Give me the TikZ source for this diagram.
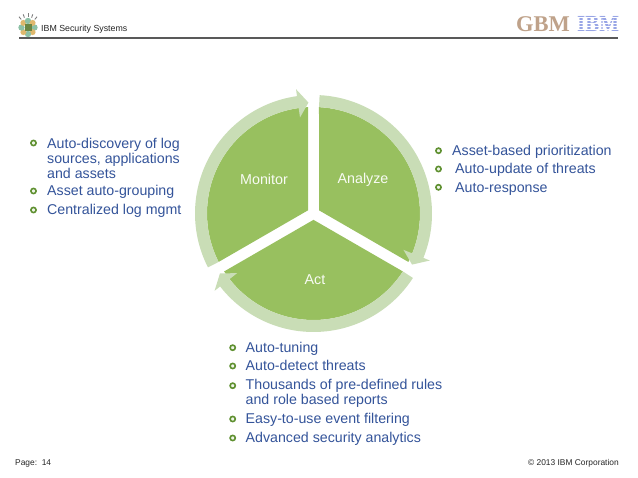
\documentclass[tikz,border=0pt]{standalone}
\usepackage{fontspec}
\setmainfont{Liberation Sans}
\newfontfamily\serifface{Liberation Serif}
\usetikzlibrary{positioning}

\definecolor{sectorgreen}{HTML}{98C05F}
\definecolor{ringgreen}{HTML}{C9DDB6}
\definecolor{bulletgreen}{HTML}{5F9030}
\definecolor{listblue}{HTML}{34549A}
\definecolor{gbmbrown}{HTML}{BFA28A}
\definecolor{ibmblue}{HTML}{98A5E6}

\tikzset{
  listtext/.style={anchor=north west, inner sep=0pt, align=left, text=listblue, font=\fontsize{14.2}{15.1}\selectfont},
  listdot/.style={circle, draw=bulletgreen, fill=ringgreen!30, line width=1.6pt, inner sep=0pt, minimum size=5.2pt},
  wheeltext/.style={inner sep=0pt, text=white!93!sectorgreen, font=\fontsize{14.3}{16}\selectfont},
  smalltext/.style={inner sep=0pt, text=black!85, font=\fontsize{8.4}{10}\selectfont}
}

\begin{document}
\begin{tikzpicture}[x=1pt, y=-1pt]
      \useasboundingbox (0, 0) rectangle (638, 478);
      \fill[white] (0, 0) rectangle (638, 478);

      % header and footer
      \draw[black!65, line width=1.3pt] (19, 38) -- (618, 38);
      \node[smalltext, anchor=west, font=\fontsize{8.8}{10}\selectfont] (systems) at (41, 29.5) {IBM Security Systems};
      \node[smalltext, anchor=west] (page) at (15, 463.5) {Page:\ \ 14};
      \node[smalltext, anchor=east] (corp) at (619, 463.5) {© 2013 IBM Corporation};

      % flower logo
      \begin{scope}[shift={(28, 27.5)}]
        \foreach \a in {0, 90, 180, 270}{
          \fill[teal!30!ringgreen] (\a:6.5) circle (3.2);
          \fill[orange!40!ringgreen] (\a+45:6.5) circle (3);
        }
        \fill[sectorgreen!70!black] (-3.5, -3.5) rectangle (3.5, 3.5);
        \foreach \a in {-130, -110, -90, -70, -50}{
          \draw[black!50, line width=0.9pt] (\a:10.5) -- (\a:14);
        }
      \end{scope}

      % logos on the right
      \node[inner sep=0pt, anchor=west, text=gbmbrown, font=\serifface\bfseries\fontsize{22.5}{24}\selectfont] (gbm) at (516, 24) {GBM};
      \node[inner sep=0pt, anchor=west, text=ibmblue, xscale=0.91, font=\serifface\bfseries\fontsize{23}{24}\selectfont] (ibm) at (577, 24) {IBM};
      \foreach \y in {17.5, 20.5, 23.5, 26.5, 29.5}{
        \draw[white, line width=0.5pt] (576, \y) -- (620, \y);
      }

      % wheel
      \begin{scope}[shift={(313.5, 213.5)}, y=1pt]
        \foreach \r in {0, -120, -240}{
          \fill[sectorgreen, rotate=\r] (30:6.35) -- (87.04:106.5) arc (87.04:-27.04:106.5) -- cycle;
        }
        \foreach \r in {0, -120, -240}{
          \fill[ringgreen, rotate=\r] (87.04:118.5) arc (87.04:-22:118.5) -- (-22:125.5) -- (-27.4:111)
            -- (-22:97) -- (-22:106.5) arc (-22:87.04:106.5) -- cycle;
        }
      \end{scope}
      \node[wheeltext] (monitor) at (264, 179.5) {Monitor};
      \node[wheeltext] (analyze) at (363, 179.5) {Analyze};
      \node[wheeltext] (act) at (315, 279.5) {Act};

      % left list
      \foreach \y/\name in {143/a, 191/b, 210/c}{
        \node[listdot] (left\name) at (33.5, \y) {};
      }
      \node[listtext] (discovery) at (47, 137.5) {\strut Auto-discovery of log\\sources, applications\\and assets};
      \node[listtext] (grouping) at (47, 185) {\strut Asset auto-grouping};
      \node[listtext] (central) at (47, 204) {\strut Centralized log mgmt};

      % right list
      \foreach \y/\name in {150.7/a, 169/b, 187.3/c}{
        \node[listdot] (right\name) at (438.5, \y) {};
      }
      \node[listtext] (priority) at (452, 144.5) {\strut Asset-based prioritization};
      \node[listtext] (update) at (455, 163) {\strut Auto-update of threats};
      \node[listtext] (response) at (455, 181.5) {\strut Auto-response};

      % bottom list
      \foreach \y/\name in {347.7/a, 366/b, 385.7/c, 419/d, 438/e}{
        \node[listdot] (low\name) at (232.7, \y) {};
      }
      \node[listtext] (tuning) at (245.5, 341.5) {\strut Auto-tuning};
      \node[listtext] (detect) at (245.5, 360) {\strut Auto-detect threats};
      \node[listtext] (rules) at (245.5, 379) {\strut Thousands of pre-defined rules\\and role based reports};
      \node[listtext] (filter) at (245.5, 413) {\strut Easy-to-use event filtering};
      \node[listtext] (security) at (245.5, 432) {\strut Advanced security analytics};
    \end{tikzpicture}
\end{document}
